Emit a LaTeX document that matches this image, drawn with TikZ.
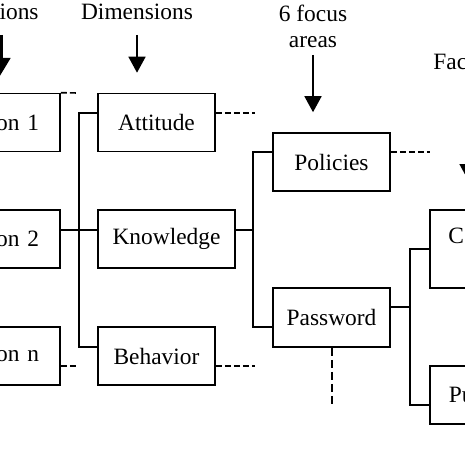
\documentclass[tikz,border=0pt]{standalone}
\usepackage{fontspec}
\setmainfont{Liberation Serif}
\usetikzlibrary{arrows.meta}
\begin{document}
\begin{tikzpicture}[x=0.5pt,y=-0.5pt,
 box/.style={draw,line width=0.8pt,inner sep=0pt,minimum height=29pt,font=\fontsize{11.7}{13.5}\selectfont},
 lbl/.style={inner sep=0pt,font=\fontsize{11.7}{13.5}\selectfont},
 ln/.style={line width=0.8pt},
 dsh/.style={line width=0.8pt,dash pattern=on 3pt off 1.5pt},
 vdsh/.style={line width=0.8pt,dash pattern=on 4pt off 2pt},
 arr/.style={line width=0.8pt,-{Triangle[width=8.5pt,length=8pt]}},
 bigarr/.style={line width=2.6pt,-{Triangle[width=10pt,length=9pt]}}]
\useasboundingbox (0,0) rectangle (465,465);
\clip (0,0) rectangle (465,465);

% headings
\node[lbl,anchor=east] (lh) at (39,12) {ions};
\node[lbl] (dim) at (137,12) {Dimensions};
\node[lbl,align=center] (foc) at (313,26.5) {6 focus\\[-0.5pt]areas};
\node[lbl,anchor=west] (fac) at (433,62) {Fac};

% left column
\node[box,minimum width=60pt,text width=39pt,inner xsep=10.5pt,align=right] (l1) at (0,122.5) {on 1};
\node[box,minimum width=60pt,text width=39pt,inner xsep=10.5pt,align=right] (l2) at (0,239) {on 2};
\node[box,minimum width=60pt,text width=39pt,inner xsep=10.5pt,align=right] (ln) at (0,356) {on n};

% dimensions
\node[box,minimum width=58.5pt] (att) at (156.5,122.5) {Attitude};
\node[box,minimum width=68.5pt] (kno) at (166.5,239) {Knowledge};
\node[box,minimum width=58.5pt] (beh) at (156.5,356) {Behavior};

% focus areas
\node[box,minimum width=58.5pt] (pol) at (331.5,162) {Policies};
\node[box,minimum width=58.5pt,minimum height=29.5pt] (pas) at (331.5,317.5) {Password};

% factors
\node[box,minimum width=65.5pt,minimum height=39pt,anchor=west] (cb) at (429,249) {};
\node[lbl,anchor=west] (ct) at (448,236) {C};
\node[box,minimum width=65.5pt,text width=56pt,inner xsep=9.5pt,align=left,anchor=west] (pu) at (429,395) {Pu};

% junction coordinates
\coordinate (j1) at (79,113);
\coordinate (j2) at (79,347);
\coordinate (j3) at (253,152);
\coordinate (j4) at (253,327);
\coordinate (j5) at (410,249);
\coordinate (j6) at (410,405);
\coordinate (ja) at (0,230);
\coordinate (jb) at (0,307);
\coordinate (d1) at (78,93);
\coordinate (d2) at (78,366);
\coordinate (d3) at (255,113);
\coordinate (d4) at (255,366);
\coordinate (d5) at (430,152);
\coordinate (d6) at (332,406);
\coordinate (a1) at (0,35);
\coordinate (a2) at (0,55);
\coordinate (a3) at (0,76);
\coordinate (f1) at (468,100);
\coordinate (f2) at (468,180);

% arrows
\draw[bigarr] (l1.north |- a1) -- (l1.north |- a3);
\draw[arr,shorten >=10pt] (dim.south |- a1) -- (dim.south |- att.north);
\draw[arr,shorten >=10pt] (foc.south |- a2) -- (foc.south |- pol.north);
\draw[arr] (f1) -- (f2);

% tree lines
\draw[ln] (att.west |- j1) -- (j1) -- (j2) -- (beh.west |- j2);
\draw[ln] (l2.east |- ja) -- (kno.west |- ja);
\draw[ln] (kno.east |- ja) -- (j3 |- ja);
\draw[ln] (pol.west |- j3) -- (j3) -- (j4) -- (pas.west |- j4);
\draw[ln] (pas.east |- jb) -- (j5 |- jb);
\draw[ln] (cb.west |- j5) -- (j5) -- (j6) -- (pu.west |- j6);

% dashed continuations
\draw[dsh] (l1.north east) -- (d1);
\draw[dsh] (ln.east |- d2) -- (d2);
\draw[dsh] (att.east |- d3) -- (d3);
\draw[dsh] (beh.east |- d4) -- (d4);
\draw[dsh] (pol.east |- d5) -- (d5);
\draw[vdsh] (pas.south -| d6) -- (d6);
\end{tikzpicture}
\end{document}
